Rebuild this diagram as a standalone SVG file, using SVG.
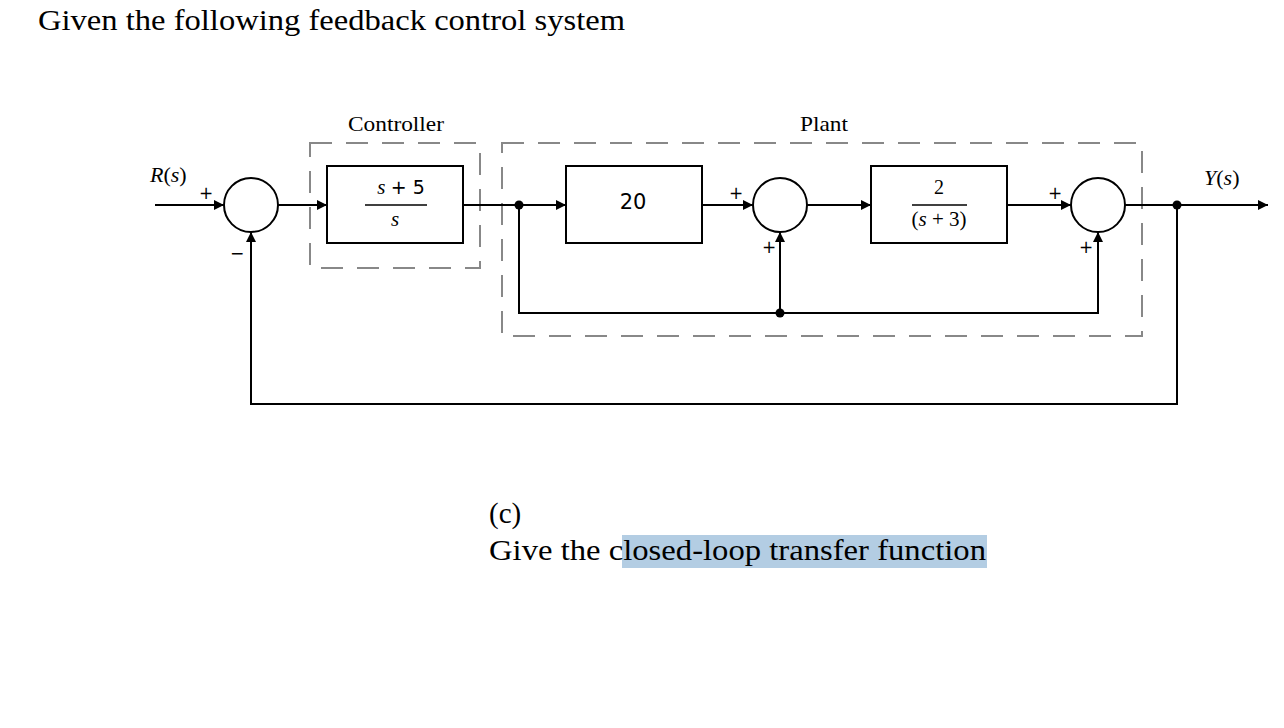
<svg xmlns="http://www.w3.org/2000/svg" width="1284" height="728" viewBox="0 0 1284 728">
<style>
.ln{stroke:#000;stroke-width:2;fill:none}
.bx{stroke:#000;stroke-width:2;fill:#fff}
.dash{stroke:#888;stroke-width:2;fill:none;stroke-dasharray:22,14}
.serif{font-family:"Liberation Serif",serif;fill:#000}
.sans{font-family:"DejaVu Sans","Liberation Sans",sans-serif;fill:#000}
.it{font-family:"Liberation Serif",serif;font-style:italic;fill:#000}
.sg{font-family:"DejaVu Sans",sans-serif;font-size:17px;fill:#000}
</style>
<defs>
<marker id="ar" viewBox="0 0 10 10" refX="10" refY="5" markerWidth="5" markerHeight="5" orient="auto"><path d="M0,0L10,5L0,10z" fill="#000"/></marker>
</defs>
<rect width="1284" height="728" fill="#fff"/>
<text x="38" y="30" class="serif" font-size="29" textLength="587" lengthAdjust="spacingAndGlyphs">Given the following feedback control system</text>
<rect x="622" y="535" width="365" height="33" fill="#b3cde3"/>
<text x="489" y="523" class="serif" font-size="29">(c)</text>
<text x="489" y="560" class="serif" font-size="29" textLength="497" lengthAdjust="spacingAndGlyphs">Give the closed-loop transfer function</text>
<g id="frames">
<rect x="310" y="143" width="170" height="125" class="dash"/>
<rect x="502" y="143" width="640" height="193" class="dash"/>
<text x="396" y="131" class="serif" font-size="21" text-anchor="middle" textLength="96" lengthAdjust="spacingAndGlyphs">Controller</text>
<text x="824" y="131" class="serif" font-size="21" text-anchor="middle" textLength="48" lengthAdjust="spacingAndGlyphs">Plant</text>
</g>
<g id="connectors">
<line x1="155" y1="205" x2="224" y2="205" class="ln" marker-end="url(#ar)"/>
<line x1="278" y1="205" x2="327" y2="205" class="ln" marker-end="url(#ar)"/>
<line x1="463" y1="205" x2="566" y2="205" class="ln" marker-end="url(#ar)"/>
<line x1="702" y1="205" x2="753" y2="205" class="ln" marker-end="url(#ar)"/>
<line x1="807" y1="205" x2="871" y2="205" class="ln" marker-end="url(#ar)"/>
<line x1="1007" y1="205" x2="1071" y2="205" class="ln" marker-end="url(#ar)"/>
<line x1="1125" y1="205" x2="1268" y2="205" class="ln" marker-end="url(#ar)"/>
<polyline points="519,205 519,313 1098,313 1098,232" class="ln" marker-end="url(#ar)"/>
<line x1="780" y1="313" x2="780" y2="232" class="ln" marker-end="url(#ar)"/>
<polyline points="1177,205 1177,404 251,404 251,232" class="ln" marker-end="url(#ar)"/>
<circle cx="519" cy="205" r="4.5"/>
<circle cx="780" cy="313" r="4.5"/>
<circle cx="1177" cy="205" r="4.5"/>
</g>
<g id="sum1"><circle cx="251" cy="205" r="27" class="bx"/>
<text x="206" y="199" class="sg" text-anchor="middle">+</text>
<text x="237" y="259" class="sg" text-anchor="middle">−</text></g>
<g id="controller"><rect x="327" y="166" width="136" height="77" class="bx"/>
<text x="401" y="194" class="it" font-size="21" text-anchor="middle">s <tspan font-style="normal" font-family="DejaVu Sans,sans-serif" font-size="19">+ 5</tspan></text>
<line x1="365" y1="205" x2="427" y2="205" stroke="#000" stroke-width="1.5"/>
<text x="395" y="226" class="it" font-size="21" text-anchor="middle">s</text></g>
<g id="gain"><rect x="566" y="166" width="136" height="77" class="bx"/>
<text x="633" y="209" class="sans" font-size="21" text-anchor="middle">20</text></g>
<g id="sum2"><circle cx="780" cy="205" r="27" class="bx"/>
<text x="736" y="199" class="sg" text-anchor="middle">+</text>
<text x="769" y="253" class="sg" text-anchor="middle">+</text></g>
<g id="plant"><rect x="871" y="166" width="136" height="77" class="bx"/>
<text x="939" y="194" class="serif" font-size="20" text-anchor="middle">2</text>
<line x1="912" y1="205" x2="967" y2="205" stroke="#000" stroke-width="1.5"/>
<text x="939" y="226" class="serif" font-size="21" text-anchor="middle">(<tspan font-style="italic">s</tspan> + 3)</text></g>
<g id="sum3"><circle cx="1098" cy="205" r="27" class="bx"/>
<text x="1055" y="199" class="sg" text-anchor="middle">+</text>
<text x="1086" y="253" class="sg" text-anchor="middle">+</text></g>
<text x="150" y="182" class="serif" font-size="22"><tspan font-style="italic">R</tspan>(<tspan font-style="italic">s</tspan>)</text>
<text x="1204" y="185" class="serif" font-size="22"><tspan font-style="italic">Y</tspan>(<tspan font-style="italic">s</tspan>)</text>
</svg>
